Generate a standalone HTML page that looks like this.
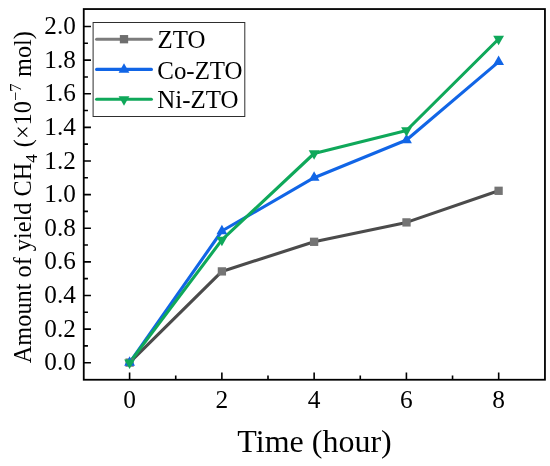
<!DOCTYPE html>
<html><head><meta charset="utf-8"><title>CH4 yield</title>
<style>
html,body{margin:0;padding:0;background:#fff;}
svg{display:block;font-family:"Liberation Serif","Times New Roman",serif;fill:#000;}
</style></head><body>
<svg width="550" height="466" viewBox="0 0 550 466">
<rect width="550" height="466" fill="#fff"/>
<g fill="none" stroke-width="3.1" stroke-linejoin="round">
<polyline stroke="#4b4b4b" points="129.6,362.6 221.9,271.4 314.1,241.8 406.5,222.4 498.6,190.8"/>
<polyline stroke="#1165e6" points="129.6,362.6 221.9,231.0 314.1,177.7 406.5,140.0 498.6,61.9"/>
<polyline stroke="#0fa85a" points="129.6,362.6 221.9,239.9 314.1,153.5 406.5,130.5 498.6,39.0"/>
</g>
<g fill="#747474"><rect x="125.45" y="358.45" width="8.3" height="8.3"/><rect x="217.75" y="267.25" width="8.3" height="8.3"/><rect x="309.95" y="237.65" width="8.3" height="8.3"/><rect x="402.35" y="218.25" width="8.3" height="8.3"/><rect x="494.45" y="186.65" width="8.3" height="8.3"/></g>
<g fill="#1165e6"><path d="M129.60,356.27l5.40,9.50h-10.80z"/><path d="M221.90,224.67l5.40,9.50h-10.80z"/><path d="M314.10,171.37l5.40,9.50h-10.80z"/><path d="M406.50,133.67l5.40,9.50h-10.80z"/><path d="M498.60,55.57l5.40,9.50h-10.80z"/></g>
<g fill="#0fa85a"><path d="M129.60,368.93l5.40,-9.50h-10.80z"/><path d="M221.90,246.23l5.40,-9.50h-10.80z"/><path d="M314.10,159.83l5.40,-9.50h-10.80z"/><path d="M406.50,136.83l5.40,-9.50h-10.80z"/><path d="M498.60,45.33l5.40,-9.50h-10.80z"/></g>
<rect x="83.75" y="9.05" width="461.20" height="370.70" fill="none" stroke="#000" stroke-width="1.8"/>
<path stroke="#000" stroke-width="1.6" fill="none" d="M83.75,362.70h7.2M83.75,329.08h7.2M83.75,295.46h7.2M83.75,261.84h7.2M83.75,228.22h7.2M83.75,194.60h7.2M83.75,160.98h7.2M83.75,127.36h7.2M83.75,93.74h7.2M83.75,60.12h7.2M83.75,26.50h7.2M83.75,345.89h4.2M83.75,312.27h4.2M83.75,278.65h4.2M83.75,245.03h4.2M83.75,211.41h4.2M83.75,177.79h4.2M83.75,144.17h4.2M83.75,110.55h4.2M83.75,76.93h4.2M83.75,43.31h4.2M129.60,379.75v-7.2M221.87,379.75v-7.2M314.14,379.75v-7.2M406.41,379.75v-7.2M498.68,379.75v-7.2M175.73,379.75v-4.2M268.00,379.75v-4.2M360.27,379.75v-4.2M452.54,379.75v-4.2"/>
<g font-size="25.2px" text-anchor="end">
<text x="75.8" y="370.2">0.0</text>
<text x="75.8" y="336.6">0.2</text>
<text x="75.8" y="303.0">0.4</text>
<text x="75.8" y="269.3">0.6</text>
<text x="75.8" y="235.7">0.8</text>
<text x="75.8" y="202.1">1.0</text>
<text x="75.8" y="168.5">1.2</text>
<text x="75.8" y="134.9">1.4</text>
<text x="75.8" y="101.2">1.6</text>
<text x="75.8" y="67.6">1.8</text>
<text x="75.8" y="34.0">2.0</text>
</g>
<g font-size="25.4px" text-anchor="middle">
<text x="129.6" y="407.8">0</text>
<text x="221.9" y="407.8">2</text>
<text x="314.1" y="407.8">4</text>
<text x="406.4" y="407.8">6</text>
<text x="498.7" y="407.8">8</text>
</g>
<text x="314.5" y="452.3" font-size="32px" text-anchor="middle">Time (hour)</text>
<text transform="translate(31,363.2) rotate(-90)" font-size="24.3px">Amount of yield CH<tspan font-size="17px" dy="6.4">4</tspan><tspan dy="-6.4" dx="1"> (×10</tspan><tspan font-size="16.5px" dy="-10.2">−7</tspan><tspan dy="10.2" dx="0.5"> mol)</tspan></text>
<rect x="93.1" y="22.5" width="151.7" height="94" fill="#fff" stroke="#2e2e2e" stroke-width="1"/>
<g stroke-width="3.1" fill="none" stroke-linecap="round"><path stroke="#7c7c7c" d="M96.6,39.3h54.8"/><path stroke="#1165e6" d="M96.6,69.4h54.8"/><path stroke="#0fa85a" d="M96.6,99.3h54.8"/></g>
<rect x="119.85" y="35.05" width="8.3" height="8.3" fill="#6e6e6e"/>
<g fill="#1165e6"><path d="M124.00,63.17l5.40,9.50h-10.80z"/></g>
<g fill="#0fa85a"><path d="M124.00,105.63l5.40,-9.50h-10.80z"/></g>
<g font-size="24.9px"><text x="157.6" y="48">ZTO</text><text x="157.3" y="78.6">Co-ZTO</text><text x="157.3" y="108.1">Ni-ZTO</text></g>
</svg>
</body></html>
